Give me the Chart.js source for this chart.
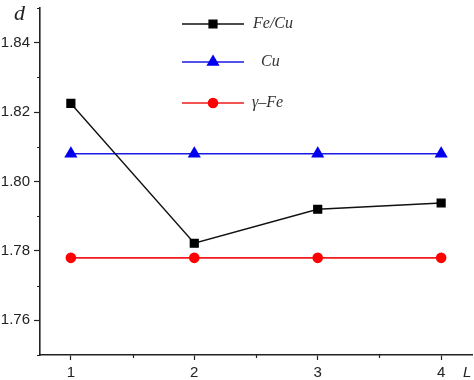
<!DOCTYPE html>
<html>
<head>
<meta charset="utf-8">
<script src="https://cdn.jsdelivr.net/npm/chart.js@4/dist/chart.umd.min.js"></script>
<style>
  html, body { margin: 0; padding: 0; background: #fff; }
  #wrap { width: 474px; height: 380px; }
</style>
</head>
<body>
<div id="wrap"><canvas id="chart"></canvas></div>
<script>
// 데이터
const layers = [1, 2, 3, 4];
const feCu = [1.8225, 1.7822, 1.7920, 1.7938];
const cu = [1.808, 1.808, 1.808, 1.808];
const gammaFe = [1.778, 1.778, 1.778, 1.778];
const seriesNames = ['Fe/Cu', 'Cu', 'γ–Fe'];
const yTicks = [1.76, 1.78, 1.80, 1.82, 1.84];

const axisColor = '#222';

function toPoints(values) {
    return layers.map((x, i) => ({ x: x, y: values[i] }));
}

// 범례 + 축 제목 + 보조 눈금
const extras = {
    id: 'extras',
    afterDraw(chart) {
        const ctx = chart.ctx;
        const xs = chart.scales.x;
        const ys = chart.scales.y;
        ctx.save();

        // 보조 눈금
        ctx.strokeStyle = axisColor;
        ctx.lineWidth = 1.2;
        ctx.beginPath();
        [1.75, 1.77, 1.79, 1.81, 1.83, 1.85].forEach(v => {
            const py = Math.round(ys.getPixelForValue(v)) + 0.5;
            ctx.moveTo(ys.right, py);
            ctx.lineTo(ys.right - 3, py);
        });
        [1.5, 2.5, 3.5].forEach(v => {
            const px = Math.round(xs.getPixelForValue(v)) + 0.5;
            ctx.moveTo(px, xs.top);
            ctx.lineTo(px, xs.top + 3);
        });
        ctx.stroke();

        // 축 제목
        ctx.fillStyle = axisColor;
        ctx.font = 'italic 22px "Liberation Serif", serif';
        ctx.textBaseline = 'alphabetic';
        ctx.textAlign = 'left';
        ctx.fillText('d', 14, 20);
        ctx.font = 'italic 15px "Liberation Sans", sans-serif';
        ctx.fillText('L', 463, 377);

        // 범례
        const rows = [24, 62, 103];
        const textX = [253, 261, 252];
        chart.data.datasets.forEach((ds, i) => {
            const y = rows[i];
            ctx.strokeStyle = ds.borderColor;
            ctx.lineWidth = ds.borderWidth;
            ctx.beginPath();
            ctx.moveTo(182, y);
            ctx.lineTo(244, y);
            ctx.stroke();
            ctx.fillStyle = ds.pointBackgroundColor;
            ctx.strokeStyle = ds.pointBorderColor;
            Chart.helpers.drawPoint(ctx, {
                pointStyle: ds.pointStyle,
                radius: ds.pointRadius,
                borderWidth: 1,
                rotation: 0
            }, 213, y);
            ctx.fillStyle = '#333';
            ctx.font = 'italic 16px "Liberation Serif", serif';
            ctx.textBaseline = 'middle';
            ctx.fillText(ds.label, textX[i], y);
        });
        ctx.restore();
    }
};

const ctx = document.getElementById('chart').getContext('2d');
const chart = new Chart(ctx, {
    type: 'line',
    data: {
        datasets: [
            {
                label: seriesNames[0],
                data: toPoints(feCu),
                borderColor: '#111',
                backgroundColor: '#111',
                pointBackgroundColor: '#000',
                pointBorderColor: '#000',
                borderWidth: 1.4,
                pointStyle: 'rect',
                pointRadius: 5.5
            },
            {
                label: seriesNames[1],
                data: toPoints(cu),
                borderColor: '#1a1ae6',
                backgroundColor: '#1a1ae6',
                pointBackgroundColor: '#0000ee',
                pointBorderColor: '#0000ee',
                borderWidth: 1.6,
                pointStyle: 'triangle',
                pointRadius: 6
            },
            {
                label: seriesNames[2],
                data: toPoints(gammaFe),
                borderColor: '#f01a1a',
                backgroundColor: '#f01a1a',
                pointBackgroundColor: '#f00',
                pointBorderColor: '#f00',
                borderWidth: 1.6,
                pointStyle: 'circle',
                pointRadius: 4.5
            }
        ]
    },
    options: {
        responsive: true,
        maintainAspectRatio: false,
        animation: false,
        layout: { autoPadding: false, padding: { left: 0, right: 2, top: 8, bottom: 0 } },
        plugins: {
            legend: { display: false },
            tooltip: { enabled: false }
        },
        elements: { line: { tension: 0 }, point: { borderWidth: 1 } },
        scales: {
            x: {
                type: 'linear',
                min: 0.75,
                max: 4.25,
                afterFit: (scale) => {
                    scale.height = 25;
                    scale.paddingLeft = 0;
                    scale.paddingRight = 0;
                },
                afterBuildTicks: (scale) => {
                    scale.ticks = layers.map(v => ({ value: v }));
                },
                border: { display: true, color: axisColor, width: 1.6 },
                grid: { drawOnChartArea: false, drawTicks: true, tickLength: 5, color: axisColor, tickWidth: 1.2 },
                ticks: {
                    color: axisColor,
                    padding: 4,
                    font: { family: '"Liberation Sans", Arial, sans-serif', size: 15 },
                    callback: (v) => String(v)
                }
            },
            y: {
                type: 'linear',
                min: 1.75,
                max: 1.85,
                afterFit: (scale) => {
                    scale.width = 40;
                    scale.paddingTop = 0;
                    scale.paddingBottom = 0;
                },
                afterBuildTicks: (scale) => {
                    scale.ticks = yTicks.map(v => ({ value: v }));
                },
                border: { display: true, color: axisColor, width: 1.6 },
                grid: { drawOnChartArea: false, drawTicks: true, tickLength: 6, color: axisColor, tickWidth: 1.2 },
                ticks: {
                    color: axisColor,
                    padding: 4,
                    font: { family: '"Liberation Sans", Arial, sans-serif', size: 15 },
                    callback: (v) => v.toFixed(2)
                }
            }
        }
    },
    plugins: [extras]
});
</script>
</body>
</html>
